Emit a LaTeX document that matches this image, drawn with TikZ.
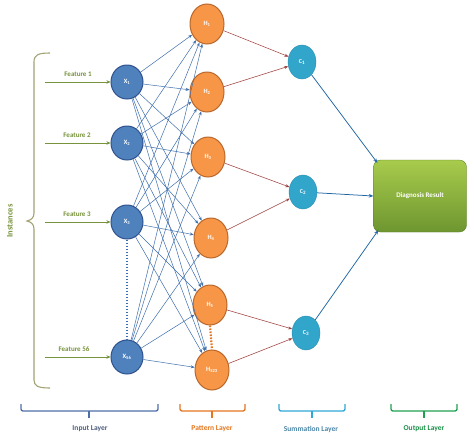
\documentclass[tikz,border=0pt]{standalone}
\usepackage{fontspec}
\setmainfont{Carlito}
\usetikzlibrary{arrows.meta,shapes.geometric,calc}
\definecolor{xfill}{HTML}{4F81BD}
\definecolor{xdraw}{HTML}{2F528F}
\definecolor{hfill}{HTML}{F79646}
\definecolor{hdraw}{HTML}{B9682D}
\definecolor{cfill}{HTML}{31A6CA}
\definecolor{cdraw}{HTML}{2A8FB0}
\definecolor{edgeblue}{HTML}{3F6FAE}
\definecolor{dotblue}{HTML}{3A6EB5}
\definecolor{edgered}{HTML}{A0413F}
\definecolor{outblue}{HTML}{1F65A3}
\definecolor{featgreen}{HTML}{77933C}
\definecolor{bracegreen}{HTML}{A3A374}
\definecolor{boxtop}{HTML}{A8CB4C}
\definecolor{boxbot}{HTML}{6E9630}
\definecolor{inbrace}{HTML}{4E6FA6}
\definecolor{intext}{HTML}{4F5F80}
\definecolor{patbrace}{HTML}{E4761F}
\definecolor{sumbrace}{HTML}{2FA8D8}
\definecolor{sumtext}{HTML}{4A86A8}
\definecolor{outbrace}{HTML}{1EA050}
\tikzset{
  xnode/.style={ellipse,draw=xdraw,line width=1pt,fill=xfill,minimum width=32pt,minimum height=34pt,inner sep=0pt,text=white,font=\fontsize{6.5}{7}\selectfont\bfseries},
  hnode/.style={ellipse,draw=hdraw,line width=1pt,fill=hfill,minimum width=34pt,minimum height=40pt,inner sep=0pt,text=white,font=\fontsize{6.5}{7}\selectfont\bfseries},
  cnode/.style={ellipse,draw=cdraw,line width=0.4pt,fill=cfill,minimum width=28pt,minimum height=34pt,inner sep=0pt,text=white,font=\fontsize{6}{6.5}\selectfont\bfseries},
  outbox/.style={rectangle,rounded corners=7pt,top color=boxtop,bottom color=boxbot,draw=boxbot!80!black,line width=0.3pt,minimum width=93pt,minimum height=72pt,text=white,font=\fontsize{7}{8}\selectfont\bfseries},
  inedge/.style={draw=edgeblue,line width=0.5pt,-{Stealth[length=4pt,width=3pt]}},
  hedge/.style={draw=edgered,line width=0.55pt,-{Stealth[length=4pt,width=3pt]}},
  cedge/.style={draw=outblue,line width=0.75pt,-{Stealth[length=4.5pt,width=3.5pt]}},
  featarrow/.style={draw=featgreen,line width=0.9pt,-{Stealth[length=4pt,width=3.5pt]}},
  featlabel/.style={text=featgreen,font=\fontsize{7}{8}\selectfont\bfseries},
  layerlabel/.style={font=\fontsize{7.5}{8}\selectfont\bfseries},
  layerbrace/.style={line width=1.3pt,rounded corners=2pt}
}
\begin{document}
\begin{tikzpicture}[x=1pt,y=-1pt]
\useasboundingbox[fill=white] (0,0) rectangle (474,445);

% input nodes
\node[xnode] (x1) at (127,82) {X\textsubscript{1}};
\node[xnode] (x2) at (127,143) {X\textsubscript{2}};
\node[xnode] (x3) at (127,222) {X\textsubscript{3}};
\node[xnode] (x56) at (127,357) {X\textsubscript{56}};

% pattern nodes
\node[hnode] (h1) at (207,24) {H\textsubscript{1}};
\node[hnode] (h2) at (207,92) {H\textsubscript{2}};
\node[hnode] (h3) at (208,157) {H\textsubscript{3}};
\node[hnode] (h4) at (211,238) {H\textsubscript{4}};
\node[hnode] (h5) at (210,305) {H\textsubscript{5}};
\node[hnode] (h523) at (212,370) {H\textsubscript{523}};

% summation nodes
\node[cnode] (c1) at (302,62) {C\textsubscript{1}};
\node[cnode] (c2) at (303,192) {C\textsubscript{2}};
\node[cnode] (c3) at (306,333) {C\textsubscript{3}};

% output
\node[outbox] (out) at (420,196) {Diagnosis Result};

% input -> pattern edges
\foreach \i in {x1,x2,x3,x56}{
  \foreach \j in {h1,h2,h3,h4,h5,h523}{
    \draw[inedge] (\i) -- (\j);
  }
}

% pattern -> summation
\draw[hedge] (h1) -- (c1);
\draw[hedge] (h2) -- (c1);
\draw[hedge] (h3) -- (c2);
\draw[hedge] (h4) -- (c2);
\draw[hedge] (h5) -- (c3);
\draw[hedge] (h523) -- (c3);

% summation -> output
\coordinate (o1) at ($(out.north west)+(4,3)$);
\coordinate (o2) at ($(out.west)+(0,0)$);
\coordinate (o3) at ($(out.south west)+(5,-2)$);
\draw[cedge] (c1) -- (o1);
\draw[cedge] (c2) -- (o2);
\draw[cedge] (c3) -- (o3);

% dotted continuations
\draw[draw=dotblue,line width=2.2pt,dash pattern=on 1.6pt off 1.4pt] (x3.south) -- (x56.north);
\draw[draw=patbrace,line width=2.2pt,dash pattern=on 1.6pt off 1.4pt] (h5.south) -- (h523.north);

% features
\coordinate (f1) at (45,82);
\coordinate (f2) at (45,143);
\coordinate (f3) at (45,222);
\coordinate (f56) at (45,357);
\draw[featarrow] (f1) -- (x1);
\draw[featarrow] (f2) -- (x2);
\draw[featarrow] (f3) -- (x3);
\draw[featarrow] (f56) -- (x56);
\node[featlabel] (l1) at (78,74) {Feature 1};
\node[featlabel] (l2) at (77,135) {Feature 2};
\node[featlabel] (l3) at (77,214) {Feature 3};
\node[featlabel] (l56) at (74,349) {Feature 56};

% instances brace
\draw[draw=bracegreen,line width=1.1pt]
  (50,53) .. controls (38,53) and (34,55) .. (34,62) -- (34,213)
  .. controls (34,218) and (31,220) .. (27,221)
  .. controls (31,222) and (34,224) .. (34,229) -- (34,380)
  .. controls (34,386) and (38,388) .. (50,388);
\node[rotate=90,text=featgreen,font=\fontsize{8.5}{9}\selectfont\bfseries] (inst) at (10,221) {Instances};

% layer braces
\draw[layerbrace,draw=inbrace] (21,404) -- (21,411) -- (158,411) -- (158,404);
\draw[draw=inbrace,line width=1.3pt] (89,411) -- (89,418);
\node[layerlabel,text=intext] (lin) at (90,429) {Input Layer};

\draw[layerbrace,draw=patbrace] (180,404) -- (180,411) -- (245,411) -- (245,404);
\draw[draw=patbrace,line width=1.3pt] (212,411) -- (212,418);
\node[layerlabel,text=patbrace] (lpat) at (212,429) {Pattern Layer};

\draw[layerbrace,draw=sumbrace] (279,404) -- (279,411) -- (345,411) -- (345,404);
\draw[draw=sumbrace,line width=1.3pt] (312,411) -- (312,418);
\node[layerlabel,text=sumtext] (lsum) at (311,429) {Summation Layer};

\draw[layerbrace,draw=outbrace] (391,404) -- (391,411) -- (457,411) -- (457,404);
\draw[draw=outbrace,line width=1.3pt] (424,411) -- (424,418);
\node[layerlabel,text=outbrace!90!black] (lout) at (424,429) {Output Layer};
\end{tikzpicture}
\end{document}
